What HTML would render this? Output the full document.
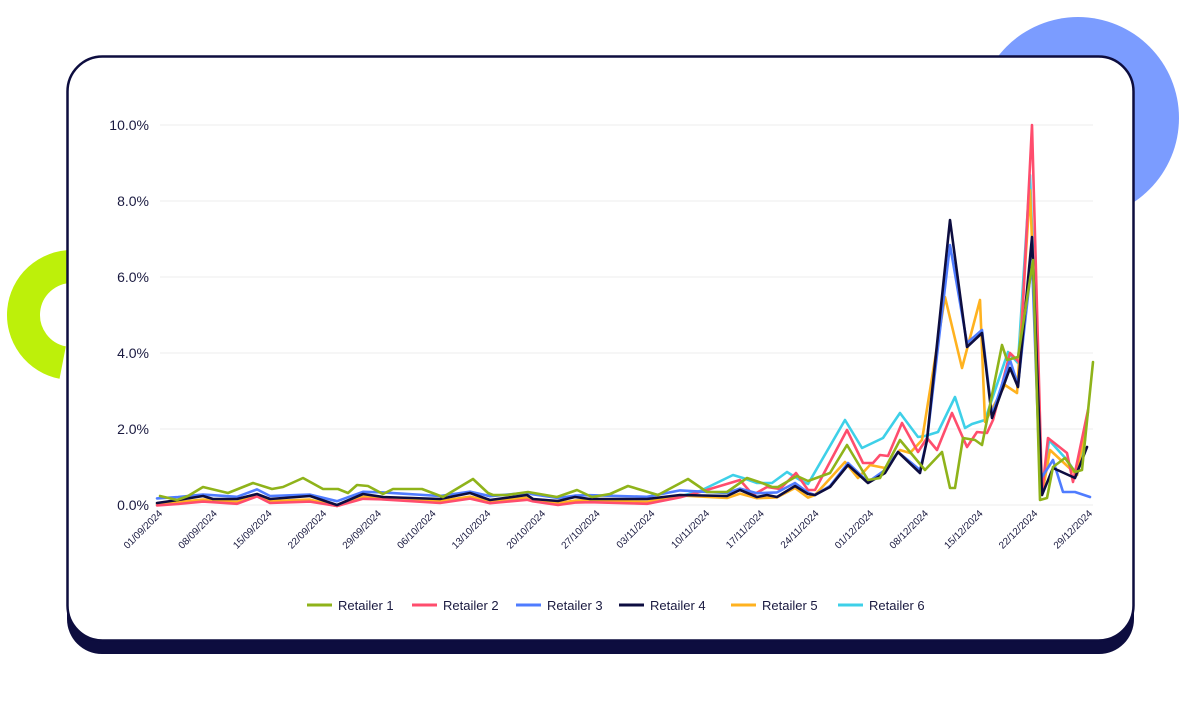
<!DOCTYPE html>
<html><head><meta charset="utf-8"><style>
html,body{margin:0;padding:0;background:#fff;}
body{width:1200px;height:699px;overflow:hidden;font-family:"Liberation Sans",sans-serif;}
</style></head><body>
<svg id="s" width="1200" height="699" viewBox="0 0 1200 699" xmlns="http://www.w3.org/2000/svg">
<circle cx="1078" cy="118" r="101" fill="#7b9cff"/>
<path d="M 72 266.5 A 48.5 48.5 0 0 0 62.7 362.6" fill="none" stroke="#bdf00a" stroke-width="33"/>
<rect x="67" y="70" width="1067" height="584" rx="35" fill="#0d0d3f"/>
<rect x="67.5" y="56.5" width="1066" height="584" rx="35" fill="#fff" stroke="#0d0d3f" stroke-width="2.5"/>
<g id="grid" stroke="#eeeeee" stroke-width="1"></g>
<g id="ylab" font-size="14" fill="#1a1a40" text-anchor="end"></g>
<g id="xlab" font-size="10" fill="#1a1a40" text-anchor="end"></g>
<g id="lines" fill="none" stroke-width="2.6" stroke-linejoin="round" stroke-linecap="round"></g>
<g id="leg" font-size="13" fill="#1a1a40"></g>
</svg>
<script>
const NS="http://www.w3.org/2000/svg";
function el(p,t,a,txt){const e=document.createElementNS(NS,t);for(const k in a)e.setAttribute(k,a[k]);if(txt)e.textContent=txt;document.getElementById(p).appendChild(e);return e;}
for(let i=0;i<=5;i++){const y=505-i*76;el('grid','line',{x1:160,x2:1093,y1:y,y2:y});el('ylab','text',{x:149,y:y+5},(i*2).toFixed(1)+"%");}
const dates=["01/09","08/09","15/09","22/09","29/09","06/10","13/10","20/10","27/10","03/11","10/11","17/11","24/11","01/12","08/12","15/12","22/12","29/12"];
dates.forEach((d,i)=>{const x=160+i*54.7;el('xlab','text',{x:x+3,y:514,transform:`rotate(-45 ${x+3} 514)`},d+"/2024");});
const navyL=[[157,503],[178,500],[203,496],[213,499],[237,499],[257,494],[270,499],[310,496],[337,505],[363,494],[383,497],[440,499],[470,493],[490,500],[527,495],[533,499],[558,501],[575,497],[590,499],[647,499],[680,495],[727,496],[740,490],[757,497],[767,495],[777,497],[795,486],[808,494]];
const navyR=[[815,495],[830,487],[848,465],[868,483],[885,473],[898,452],[920,473],[927,440],[950,220],[967,347],[982,333],[992,418],[1010,368],[1018,387],[1032,237],[1042,495],[1053,468],[1075,478],[1087,447]];
const off=(arr,o,xmax)=>arr.filter(p=>p[0]<=xmax).map((p,i)=>[p[0],Math.min(506,p[1]+o+((i*7)%5-2)*0.8)]);
const blue=off(navyL,-3,810).concat([[815,495],[830,486],[848,463],[868,482],[885,470],[898,452],[920,470],[927,440],[950,245],[967,343],[982,330],[992,415],[1010,360],[1018,385],[1032,260],[1040,480],[1053,460],[1063,492],[1075,492],[1090,497]]);
const yellow=off(navyL,2,810).concat([[815,495],[845,462],[858,478],[870,465],[885,468],[900,450],[910,453],[922,440],[945,297],[962,368],[980,300],[985,422],[1005,385],[1017,393],[1030,190],[1042,495],[1050,450],[1077,475],[1088,412]]);
const red=off(navyL,4,690).concat([[700,492],[740,480],[753,495],[767,487],[780,489],[796,473],[808,490],[815,490],[847,430],[863,463],[873,463],[880,455],[888,456],[902,423],[918,452],[927,438],[937,450],[952,413],[967,447],[977,432],[987,433],[993,420],[1010,353],[1020,363],[1032,125],[1042,493],[1048,438],[1067,453],[1073,482],[1088,410]]);
const cyan=off(navyL,3,690).concat([[700,491],[733,475],[743,478],[757,483],[772,483],[787,472],[800,480],[808,484],[845,420],[862,448],[883,438],[900,413],[918,437],[925,436],[938,432],[955,397],[965,428],[972,424],[985,420],[1008,352],[1018,363],[1030,175],[1042,495],[1049,440],[1067,460],[1077,475],[1085,440]]);
const green=[[160,496],[177,500],[188,496],[203,487],[228,493],[253,483],[272,489],[283,487],[303,478],[323,489],[338,489],[348,493],[357,485],[368,486],[383,494],[393,489],[422,489],[443,497],[473,479],[488,493],[493,495],[507,495],[528,492],[557,497],[577,490],[592,497],[610,494],[628,486],[658,495],[688,479],[707,492],[727,492],[747,478],[762,483],[772,487],[778,487],[797,476],[808,481],[830,473],[847,445],[868,480],[880,478],[900,440],[925,470],[942,452],[950,488],[955,488],[963,438],[975,440],[982,445],[1002,345],[1007,360],[1018,357],[1033,260],[1040,500],[1047,498],[1053,467],[1065,458],[1075,472],[1082,470],[1093,362]];
const navy=navyL.concat(navyR);
const pts=a=>a.map(p=>p[0]+","+p[1]).join(" ");
[[cyan,"#3ed0e8"],[yellow,"#ffb21f"],[red,"#ff4d6d"],[blue,"#4f7cff"],[navy,"#0d0d40"],[green,"#8fb31a"]].forEach(([a,c])=>el('lines','polyline',{points:pts(a),stroke:c}));
const leg=[["Retailer 1","#8fb31a",307],["Retailer 2","#ff4d6d",412],["Retailer 3","#4f7cff",516],["Retailer 4","#0d0d40",619],["Retailer 5","#ffb21f",731],["Retailer 6","#3ed0e8",838]];
leg.forEach(([t,c,x])=>{el('leg','line',{x1:x,x2:x+25,y1:605,y2:605,stroke:c,"stroke-width":3});el('leg','text',{x:x+31,y:610},t);});
</script>
</body></html>
